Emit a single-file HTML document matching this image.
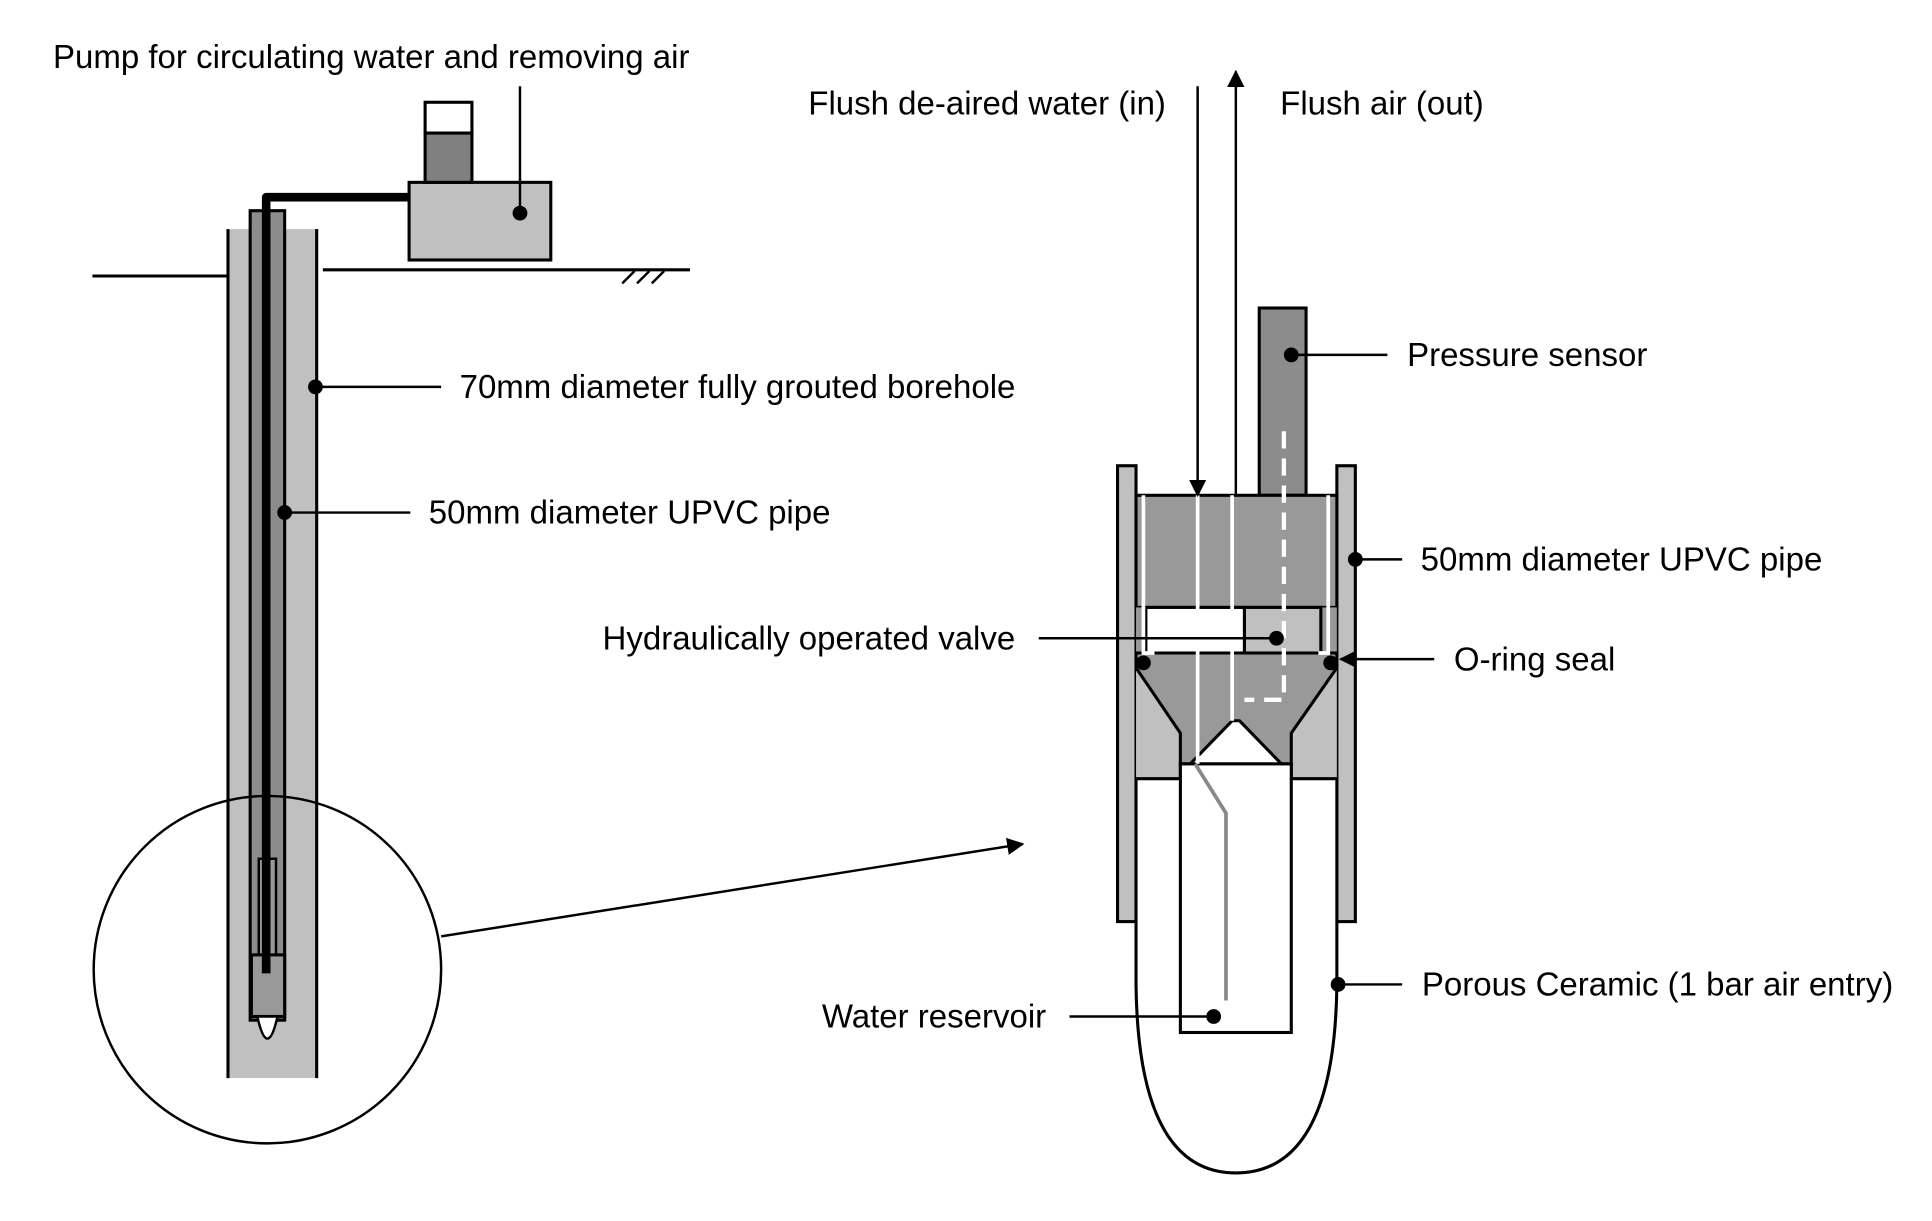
<!DOCTYPE html>
<html><head><style>body{margin:0;background:#fff}svg{display:block}text{font-family:"Liberation Sans",Arial,sans-serif;font-size:26.8px;fill:#000}</style></head><body>
<svg width="1932" height="1221" viewBox="0 0 1568 991" xmlns="http://www.w3.org/2000/svg">
<defs>
<marker id="ah2" viewBox="0 0 10 10" refX="9" refY="5" markerWidth="14" markerHeight="14" orient="auto" markerUnits="userSpaceOnUse"><path d="M0,0L10,5L0,10z" fill="#000"/></marker></defs>
<!-- Left borehole -->
<rect x="185" y="186" width="72" height="689" fill="#c0c0c0"/>
<line x1="185" y1="186" x2="185" y2="875" stroke="#000" stroke-width="2.5"/>
<line x1="257" y1="186" x2="257" y2="875" stroke="#000" stroke-width="2.5"/>
<line x1="75" y1="224" x2="185" y2="224" stroke="#000" stroke-width="2.5"/>
<line x1="262" y1="219" x2="560" y2="219" stroke="#000" stroke-width="2.5"/>
<path d="M505,230L515,220M517,230L527,220M529,230L539,220" stroke="#000" stroke-width="2"/>
<rect x="203" y="171" width="28" height="657" fill="#8c8c8c" stroke="#000" stroke-width="2.5"/>
<rect x="210" y="697" width="14" height="78" fill="#999" stroke="#000" stroke-width="2"/>
<rect x="204" y="775" width="27" height="50" fill="#999" stroke="#000" stroke-width="2.5"/>
<path d="M209,826 Q217,860 225,826" fill="#fff" stroke="#000" stroke-width="2"/>
<path d="M216,790 L216,160 L332,160" fill="none" stroke="#000" stroke-width="7" stroke-linejoin="round"/>
<rect x="332" y="148" width="115" height="63" fill="#c0c0c0" stroke="#000" stroke-width="2.5"/>
<rect x="345" y="83" width="38" height="25" fill="#fff" stroke="#000" stroke-width="2.5"/>
<rect x="345" y="108" width="38" height="40" fill="#808080" stroke="#000" stroke-width="2.5"/>
<line x1="422" y1="70" x2="422" y2="173" stroke="#000" stroke-width="2"/>
<circle cx="422" cy="173" r="6"/>
<circle cx="256" cy="314" r="6"/><line x1="256" y1="314" x2="358" y2="314" stroke="#000" stroke-width="2"/>
<circle cx="231" cy="416" r="6"/><line x1="231" y1="416" x2="333" y2="416" stroke="#000" stroke-width="2"/>
<circle cx="217" cy="787" r="141" fill="none" stroke="#000" stroke-width="2"/>
<line x1="358" y1="760" x2="830" y2="685" stroke="#000" stroke-width="2" marker-end="url(#ah2)"/>
<text x="43" y="55">Pump for circulating water and removing air</text>
<text x="373" y="323">70mm diameter fully grouted borehole</text>
<text x="348" y="425">50mm diameter UPVC pipe</text>
<!-- Right device -->
<rect x="907" y="378" width="15" height="370" fill="#c0c0c0" stroke="#000" stroke-width="2.5"/>
<rect x="1085" y="378" width="15" height="370" fill="#c0c0c0" stroke="#000" stroke-width="2.5"/>
<polygon points="922,530 922,632 958,632 958,595" fill="#c0c0c0"/>
<polygon points="1085,530 1085,632 1048,632 1048,595" fill="#c0c0c0"/>
<rect x="1022" y="250" width="38" height="152" fill="#8c8c8c" stroke="#000" stroke-width="2.5"/>
<rect x="922" y="402" width="163" height="91" fill="#999" stroke="#000" stroke-width="2.5"/>
<rect x="922" y="493" width="163" height="37" fill="#999"/>
<rect x="930" y="493" width="80" height="37" fill="#fff" stroke="#000" stroke-width="2.5"/>
<rect x="1010" y="493" width="62" height="37" fill="#c0c0c0" stroke="#000" stroke-width="2.5"/>
<polygon points="922,530 1085,530 1085,542 1048,595 1048,620 1040,620 1006,585 1000,585 966,620 958,620 958,595 922,542" fill="#999" stroke="#000" stroke-width="2.5"/>
<path d="M922,632 L922,800 Q924,952 1003,952 Q1083,952 1085,800 L1085,632 L1048,632 L1048,620 L958,620 L958,632 Z" fill="#fff" stroke="#000" stroke-width="2.5"/>
<rect x="958" y="620" width="90" height="218" fill="#fff" stroke="#000" stroke-width="2.5"/>
<path d="M928,402V530H937M1078,402V530H1070" fill="none" stroke="#fff" stroke-width="3"/>
<path d="M972,402V620M1000,402V585" stroke="#fff" stroke-width="3"/>
<path d="M1042,350V568H1010" fill="none" stroke="#fff" stroke-width="3.5" stroke-dasharray="14,8"/>
<path d="M970,620L995,660V812" fill="none" stroke="#888" stroke-width="3"/>
<line x1="972" y1="70" x2="972" y2="402" stroke="#000" stroke-width="2" marker-end="url(#ah2)"/>
<line x1="1003" y1="402" x2="1003" y2="58" stroke="#000" stroke-width="2" marker-end="url(#ah2)"/>
<circle cx="928" cy="538" r="6"/><circle cx="1080" cy="538" r="6"/>
<circle cx="1048" cy="288" r="6"/><line x1="1048" y1="288" x2="1126" y2="288" stroke="#000" stroke-width="2"/>
<circle cx="1100" cy="454" r="6"/><line x1="1100" y1="454" x2="1138" y2="454" stroke="#000" stroke-width="2"/>
<circle cx="1036" cy="518" r="6"/><line x1="843" y1="518" x2="1036" y2="518" stroke="#000" stroke-width="2"/>
<line x1="1164" y1="535" x2="1088" y2="535" stroke="#000" stroke-width="2" marker-end="url(#ah2)"/>
<circle cx="1086" cy="799" r="6"/><line x1="1086" y1="799" x2="1138" y2="799" stroke="#000" stroke-width="2"/>
<circle cx="985" cy="825" r="6"/><line x1="868" y1="825" x2="985" y2="825" stroke="#000" stroke-width="2"/>
<text x="656" y="93">Flush de-aired water (in)</text>
<text x="1039" y="93">Flush air (out)</text>
<text x="1142" y="297">Pressure sensor</text>
<text x="1153" y="463">50mm diameter UPVC pipe</text>
<text x="489" y="527">Hydraulically operated valve</text>
<text x="1180" y="544">O-ring seal</text>
<text x="1154" y="808">Porous Ceramic (1 bar air entry)</text>
<text x="667" y="834">Water reservoir</text>
</svg></body></html>
